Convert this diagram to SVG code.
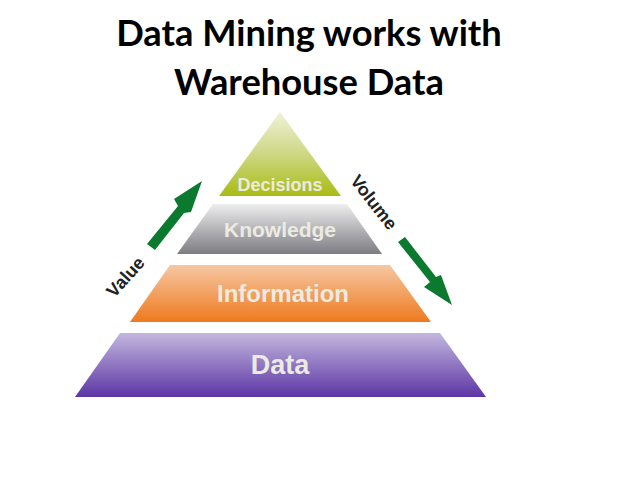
<svg xmlns="http://www.w3.org/2000/svg" width="638" height="478" viewBox="0 0 638 478">
<style>
.title{font-family:Lato,"Liberation Sans",sans-serif;font-weight:700;font-size:36.3px;fill:#000;text-anchor:middle}
.lab{font-family:"Liberation Sans",Arial,sans-serif;font-weight:700;text-anchor:middle;fill:#ecebe2}
.side{font-family:"Liberation Sans",Arial,sans-serif;font-weight:700;font-size:18px;fill:#222;text-anchor:middle}
.arrow{fill:#0c7a2e}
</style>
<defs>
<linearGradient id="gd" x1="0" y1="0" x2="0" y2="1"><stop offset="0" stop-color="#f0f2d8"/><stop offset="0.5" stop-color="#cdd884"/><stop offset="1" stop-color="#a9bb14"/></linearGradient>
<linearGradient id="gk" x1="0" y1="0" x2="0" y2="1"><stop offset="0" stop-color="#eeeeee"/><stop offset="1" stop-color="#7c7c82"/></linearGradient>
<linearGradient id="gi" x1="0" y1="0" x2="0" y2="1"><stop offset="0" stop-color="#f6c7a2"/><stop offset="1" stop-color="#ee7a1e"/></linearGradient>
<linearGradient id="gv" x1="0" y1="0" x2="0" y2="1"><stop offset="0" stop-color="#c3b7dd"/><stop offset="1" stop-color="#5c35a5"/></linearGradient>
<filter id="soft" x="-5%" y="-5%" width="110%" height="110%"><feGaussianBlur stdDeviation="0.6"/></filter>
</defs>
<rect width="638" height="478" fill="#fff"/>
<text class="title" x="309" y="46">Data Mining works with</text>
<text class="title" x="309" y="95">Warehouse Data</text>
<g id="decisions"><polygon points="280,112 341,196 219,196" fill="url(#gd)" filter="url(#soft)"/><text class="lab" x="280" y="191" font-size="18">Decisions</text></g>
<g id="knowledge"><polygon points="213,204 347,204 382,254 177,254" fill="url(#gk)" filter="url(#soft)"/><text class="lab" x="280" y="237" font-size="21">Knowledge</text></g>
<g id="information"><polygon points="170,265 390,265 431,322 130,322" fill="url(#gi)" filter="url(#soft)"/><text class="lab" x="283" y="302" font-size="24">Information</text></g>
<g id="data"><polygon points="120,333 440,333 486,397 75,397" fill="url(#gv)" filter="url(#soft)"/><text class="lab" x="280" y="374" font-size="27">Data</text></g>
<g id="connectors">
<polygon class="arrow" points="147,244 155,250 184,213 191,212 202,181 174,199 178,206"/>
<polygon class="arrow" points="405,237 398,242 430,282 424,287 452,305 441,275 436,277"/>
</g>
<g id="labels">
<text class="side" transform="translate(130,281) rotate(-48)">Value</text>
<text class="side" transform="translate(369,206) rotate(52)">Volume</text>
</g>
</svg>
